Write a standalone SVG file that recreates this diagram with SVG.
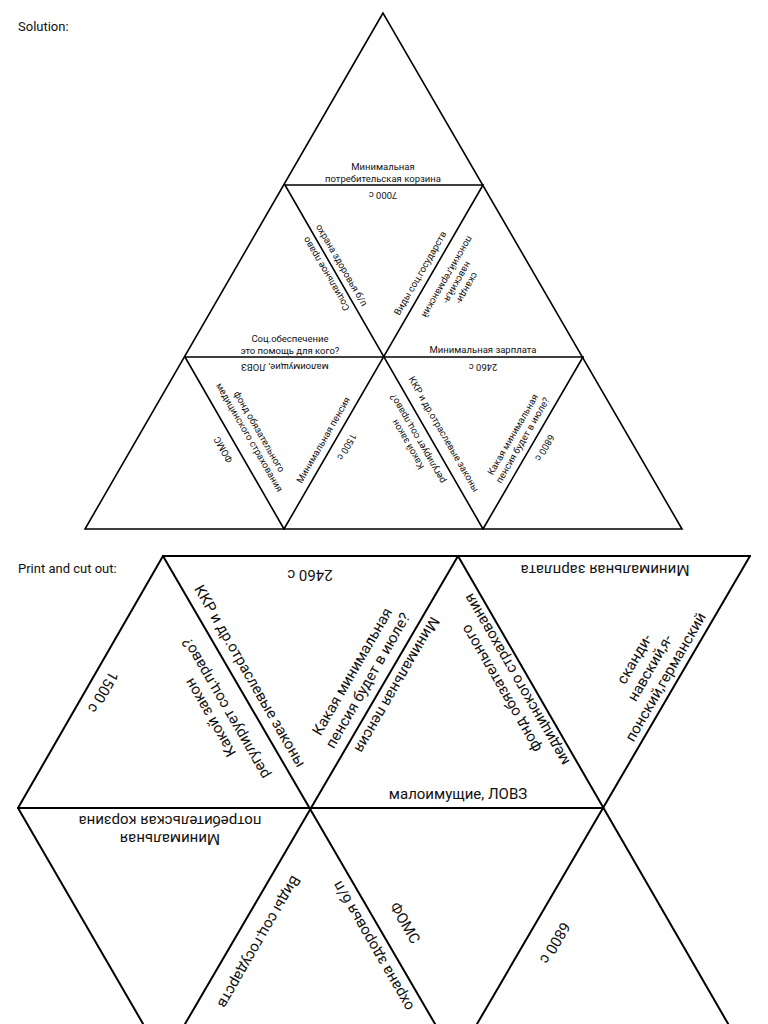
<svg xmlns="http://www.w3.org/2000/svg" width="768" height="1024" viewBox="0 0 768 1024">
<style>
.ln{stroke:#000;fill:none;stroke-linecap:round}
.s{font-family:Roboto,"Liberation Sans",sans-serif;font-size:9.5px;fill:#111;text-anchor:middle;dominant-baseline:central}
.b{font-family:Roboto,"Liberation Sans",sans-serif;font-size:15px;fill:#111;text-anchor:middle;dominant-baseline:central}
.h{font-family:Roboto,"Liberation Sans",sans-serif;font-size:13px;fill:#111}
</style>
<rect width="768" height="1024" fill="#fff"/>
<text class="h" x="18" y="31">Solution:</text>
<text class="h" x="18" y="573">Print and cut out:</text>
<g id="connectors">
<g class="ln" stroke-width="1.6">
<polygon points="383,13 85,529 682,529"/>
<line x1="285" y1="185" x2="483" y2="185"/>
<line x1="185" y1="357" x2="583" y2="357"/>
<line x1="285" y1="185" x2="483" y2="529"/>
<line x1="483" y1="185" x2="284" y2="529"/>
<line x1="185" y1="357" x2="284" y2="529"/>
<line x1="583" y1="357" x2="483" y2="529"/>
</g>
<g class="ln" stroke-width="2">
<line x1="163" y1="556" x2="750" y2="556"/>
<line x1="18" y1="808" x2="603" y2="808"/>
<line x1="163" y1="556" x2="18" y2="808"/>
<line x1="18" y1="808" x2="164" y2="1060"/>
<line x1="163" y1="556" x2="456" y2="1060"/>
<line x1="458" y1="556" x2="164" y2="1060"/>
<line x1="458" y1="556" x2="749" y2="1060"/>
<line x1="750" y1="556" x2="456" y2="1060"/>
</g>
</g>
<g id="solution">
<g id="t1"><text class="s" transform="translate(383,172)"><tspan x="0" dy="-0.6em">Минимальная</tspan><tspan x="0" dy="1.2em">потребительская корзина</tspan></text></g>
<g id="t2">
<text class="s" transform="translate(383,195) rotate(180)">7000 с</text>
<text class="s" transform="translate(342,265) rotate(60)">охрана здоровья б/п</text>
<text class="s" transform="translate(420,273) rotate(-60)">Виды соц.государств</text>
</g>
<g id="t3">
<text class="s" transform="translate(290,344)"><tspan x="0" dy="-0.6em">Соц.обеспечение</tspan><tspan x="0" dy="1.2em">это помощь для кого?</tspan></text>
<text class="s" transform="translate(326,274) rotate(240)">Социальное право</text>
</g>
<g id="t4">
<text class="s" transform="translate(483,349)">Минимальная зарплата</text>
<text class="s" transform="translate(458,283) rotate(120)"><tspan x="0" dy="-1.2em">сканди-</tspan><tspan x="0" dy="1.2em">навский,я-</tspan><tspan x="0" dy="1.2em">понский,германский</tspan></text>
</g>
<g id="t5"><text class="s" transform="translate(223,450) rotate(240)">ФОМС</text></g>
<g id="t6">
<text class="s" transform="translate(285,367) rotate(180)">малоимущие, ЛОВЗ</text>
<text class="s" transform="translate(255,434) rotate(60)"><tspan x="0" dy="-0.6em">фонд обязательного</tspan><tspan x="0" dy="1.2em">медицинского страхования</tspan></text>
<text class="s" transform="translate(323,440) rotate(-60)">Минимальная пенсия</text>
</g>
<g id="t7">
<text class="s" transform="translate(347,447) rotate(120)">1500 с</text>
<text class="s" transform="translate(412,442) rotate(240)"><tspan x="0" dy="-0.6em">Какой закон</tspan><tspan x="0" dy="1.2em">регулирует соц.право?</tspan></text>
</g>
<g id="t8">
<text class="s" transform="translate(483,367) rotate(180)">2460 с</text>
<text class="s" transform="translate(444,434) rotate(60)">ККР и др.отраслевые законы</text>
<text class="s" transform="translate(517,437) rotate(-60)"><tspan x="0" dy="-0.6em">Какая минимальная</tspan><tspan x="0" dy="1.2em">пенсия будет в июле?</tspan></text>
</g>
<g id="t9"><text class="s" transform="translate(545,448) rotate(120)">6800 с</text></g>
</g>
<g id="pieces">
<g id="b1">
<text class="b" transform="translate(218,713) rotate(240)"><tspan x="0" dy="-0.6em">Какой закон</tspan><tspan x="0" dy="1.2em">регулирует соц.право?</tspan></text>
<text class="b" transform="translate(103,692) rotate(120)">1500 с</text>
</g>
<g id="b2">
<text class="b" transform="translate(310,575) rotate(180)">2460 с</text>
<text class="b" transform="translate(250,676) rotate(60)">ККР и др.отраслевые законы</text>
<text class="b" transform="translate(360,676) rotate(-60)"><tspan x="0" dy="-0.6em">Какая минимальная</tspan><tspan x="0" dy="1.2em">пенсия будет в июле?</tspan></text>
</g>
<g id="b3">
<text class="b" transform="translate(397,685) rotate(120)">Минимальная пенсия</text>
<text class="b" transform="translate(509,684) rotate(240)"><tspan x="0" dy="-0.6em">фонд обязательного</tspan><tspan x="0" dy="1.2em">медицинского страхования</tspan></text>
<text class="b" transform="translate(458,794)">малоимущие, ЛОВЗ</text>
</g>
<g id="b4">
<text class="b" transform="translate(605,570) rotate(180)">Минимальная зарплата</text>
<text class="b" transform="translate(650,668) rotate(-60)"><tspan x="0" dy="-1.2em">сканди-</tspan><tspan x="0" dy="1.2em">навский,я-</tspan><tspan x="0" dy="1.2em">понский,германский</tspan></text>
</g>
<g id="b5"><text class="b" transform="translate(170,830) rotate(180)"><tspan x="0" dy="-0.6em">Минимальная</tspan><tspan x="0" dy="1.2em">потребительская корзина</tspan></text></g>
<g id="b6">
<text class="b" transform="translate(259,942) rotate(120)">Виды соц.государств</text>
<text class="b" transform="translate(373,946) rotate(240)">охрана здоровья б/п</text>
</g>
<g id="b7"><text class="b" transform="translate(405,923) rotate(60)">ФОМС</text></g>
<g id="b8"><text class="b" transform="translate(555,943) rotate(120)">6800 с</text></g>
</g>
</svg>
